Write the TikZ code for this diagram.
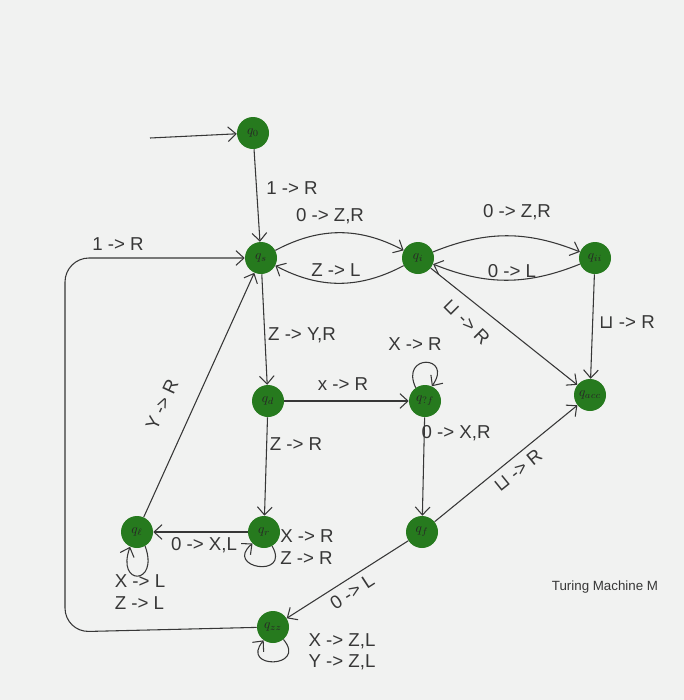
\documentclass[tikz,border=0pt]{standalone}
\usepackage{fontspec}
\setmainfont{Liberation Sans}
\newfontfamily\symfont{DejaVu Sans}
\usetikzlibrary{arrows.meta}
\definecolor{qgreen}{RGB}{38,122,30}
\definecolor{ink}{RGB}{55,55,55}
\definecolor{paper}{RGB}{241,242,241}
\newcommand{\blanksym}{{\symfont ⊔}}
\begin{document}
\begin{tikzpicture}[x=0.75pt,y=-0.75pt,
  state/.style={circle,fill=qgreen,minimum size=24pt,inner sep=0pt,font=\fontsize{10}{10}\selectfont,text=black!85},
  lab/.style={font=\fontsize{14}{16}\selectfont,text=ink,inner sep=1pt},
  edge/.style={draw=ink,line width=0.8pt,-{Straight Barb[length=6pt,width=11pt]}}]
\fill[paper] (0,0) rectangle (684,700);
\useasboundingbox (0,0) rectangle (684,700);
% states
\node[state] (q0) at (253,133) {$q_0$};
\node[state] (qs) at (261,258) {$q_s$};
\node[state] (qi) at (418,258) {$q_i$};
\node[state] (qii) at (595,258) {$q_{ii}$};
\node[state] (qd) at (268,401) {$q_d$};
\node[state] (qqf) at (425,401) {$q_{?f}$};
\node[state] (qacc) at (590,395) {$q_{acc}$};
\node[state] (ql) at (137,532) {$q_\ell$};
\node[state] (qr) at (264,532) {$q_r$};
\node[state] (qf) at (422,532) {$q_f$};
\node[state] (qzz) at (273,627) {$q_{zz}$};
% transitions
\coordinate (init) at (150,138);
\draw[edge] (init) -- (q0);
\draw[edge] (q0) -- (qs);
\draw[edge] (qs) to[bend left=28] (qi);
\draw[edge] (qi) to[bend left=28] (qs);
\draw[edge] (qi) to[bend left=22] (qii);
\draw[edge] (qii) to[bend left=22] (qi);
\draw[edge] (qi) -- (qacc);
\draw[edge] (qii) -- (qacc);
\draw[edge] (qs) -- (qd);
\draw[edge] (qd) -- (qqf);
\draw[edge] (qqf.125) .. controls +(-115:38) and +(-55:38) .. (qqf.65);
\draw[edge] (qqf) -- (qf);
\draw[edge] (qd) -- (qr);
\draw[edge] (qr.-60) .. controls +(60:38) and +(140:38) .. (qr.-135);
\draw[edge] (ql.-60) .. controls +(70:42) and +(110:42) .. (ql.-115);
\draw[edge] (qr) -- (ql);
\draw[edge] (ql) -- (qs);
\draw[edge] (qf) -- (qacc);
\draw[edge] (qf) -- (qzz);
\draw[edge] (qzz.-50) .. controls +(50:38) and +(130:38) .. (qzz.-125);
\coordinate (c1) at (65,632);
\coordinate (c2) at (65,258);
\draw[edge,rounded corners=18pt] (qzz) -- (c1) -- (c2) -- (qs);
% labels
\node[lab] (l1) at (292,188) {1 -> R};
\node[lab] (l2) at (330,216) {0 -> Z,R};
\node[lab] (l3) at (336,270) {Z -> L};
\node[lab] (l4) at (517,212) {0 -> Z,R};
\node[lab] (l5) at (512,271) {0 -> L};
\node[lab,rotate=-45] (l6) at (467,322) {\blanksym\ -> R};
\node[lab] (l7) at (627,322) {\blanksym\ -> R};
\node[lab] (l8) at (302,335) {Z -> Y,R};
\node[lab] (l9) at (415,344) {X -> R};
\node[lab] (l10) at (343,384) {x -> R};
\node[lab] (l11) at (456,433) {0 -> X,R};
\node[lab] (l12) at (296,444) {Z -> R};
\node[lab,rotate=65] (l13) at (162,405) {Y -> R};
\node[lab,rotate=39] (l14) at (518,470) {\blanksym\ -> R};
\node[lab] (l15) at (204,545) {0 -> X,L};
\node[lab,align=left] (l16) at (307,547) {X -> R\\Z -> R};
\node[lab,align=left] (l17) at (140,592) {X -> L\\Z -> L};
\node[lab,rotate=33] (l18) at (352,592) {0 -> L};
\node[lab,align=left] (l19) at (342,652) {X -> Z,L\\Y -> Z,L};
\node[lab] (l20) at (118,244) {1 -> R};
\node[font=\fontsize{10}{12}\selectfont,text=ink] (title) at (605,587) {Turing Machine M};
\end{tikzpicture}
\end{document}
